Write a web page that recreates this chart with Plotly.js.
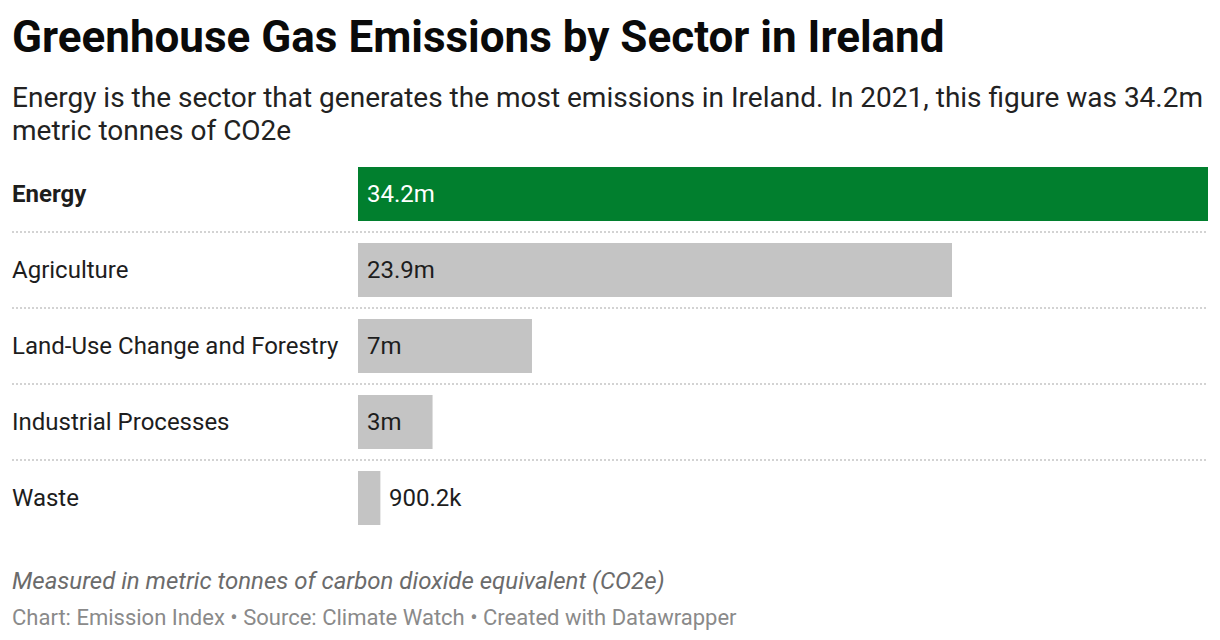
<!DOCTYPE html>
<html>
<head>
<meta charset="utf-8">
<script src="https://cdn.plot.ly/plotly-3.0.1.min.js"></script>
<style>
  html, body { margin: 0; padding: 0; background: #fff; }
  #chart { width: 1220px; height: 640px; }
</style>
</head>
<body>
<div id="chart"></div>
<script>
// Sectors and emissions (million tonnes CO2e), 2021
const sectors = ["Energy", "Agriculture", "Land-Use Change and Forestry", "Industrial Processes", "Waste"];
const emissions = [34.2, 23.9, 7.0, 3.0, 0.9002];
const highlight = "Energy";

const W = 1220, H = 640;
const M = { l: 358, r: 12, t: 156, b: 104 };
const plotW = W - M.l - M.r, plotH = H - M.t - M.b;
const px = x => (x - M.l) / plotW;          // pixel x -> paper x
const py = y => (H - M.b - y) / plotH;       // pixel y -> paper y

function fmt(v) {
  if (v >= 1) return (Math.round(v * 10) / 10).toString() + "m";
  return (Math.round(v * 10000) / 10).toFixed(1) + "k";
}

const GREEN = "#017f2e", GRAY = "#c4c4c4", TEXT = "#1d1d1d";
const FONT = "Roboto, 'Open Sans', sans-serif";
const LEFT = px(10);

const trace = {
  type: "bar",
  orientation: "h",
  y: sectors,
  x: emissions,
  marker: { color: sectors.map(s => s === highlight ? GREEN : GRAY) },
  hoverinfo: "none"
};

const annotations = [];
const shapes = [];

sectors.forEach((s, i) => {
  // Category labels, left aligned
  annotations.push({
    xref: "paper", yref: "y", x: LEFT, y: s,
    xanchor: "left", yanchor: "middle", showarrow: false,
    text: s === highlight ? "<b>" + s + "</b>" : s,
    font: { family: FONT, size: 24, color: TEXT }
  });
  // Value labels: inside the bar when it is wide enough, else just past its end
  const inside = emissions[i] > 2;
  annotations.push({
    xref: "x", yref: "y", x: inside ? 0 : emissions[i], y: s,
    xanchor: "left", yanchor: "middle", showarrow: false, xshift: 7,
    text: fmt(emissions[i]),
    font: { family: FONT, size: 24, color: s === highlight ? "#ffffff" : TEXT }
  });
  // Dotted row separators
  if (i < sectors.length - 1) {
    shapes.push({
      type: "line", xref: "paper", yref: "y",
      x0: px(12), x1: 1, y0: i + 0.5, y1: i + 0.5,
      line: { color: "#d3d3d3", width: 2, dash: "2px,2px" }
    });
  }
});

// Title block and footer
function note(text, y, size, color) {
  annotations.push({
    xref: "paper", yref: "paper", x: LEFT, y: py(y),
    xanchor: "left", yanchor: "middle", showarrow: false, align: "left",
    text, font: { family: FONT, size, color }
  });
}
note("<b>Greenhouse Gas Emissions by Sector in Ireland</b>", 37, 44, "#0a0a0a");
note("Energy is the sector that generates the most emissions in Ireland. In 2021, this figure was 34.2m", 98, 28, "#222222");
note("metric tonnes of CO2e", 131, 28, "#222222");
note("<i>Measured in metric tonnes of carbon dioxide equivalent (CO2e)</i>", 581, 24, "#6b6b6b");
note("Chart: Emission Index • Source: Climate Watch • Created with Datawrapper", 617, 22, "#8a8a8a");

const layout = {
  width: W, height: H,
  margin: M,
  paper_bgcolor: "#ffffff", plot_bgcolor: "#ffffff",
  showlegend: false,
  bargap: 22 / 76,
  xaxis: { range: [0, Math.max(...emissions)], visible: false, fixedrange: true },
  yaxis: { autorange: "reversed", showticklabels: false, showgrid: false, zeroline: false, showline: false, ticks: "", fixedrange: true },
  annotations, shapes
};

Plotly.newPlot("chart", [trace], layout, { displayModeBar: false, staticPlot: true });
</script>
</body>
</html>
